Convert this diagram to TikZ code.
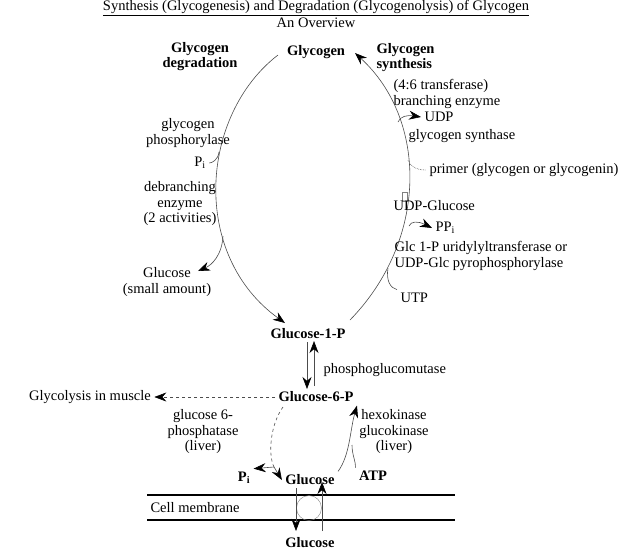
\documentclass[tikz,border=0pt]{standalone}
\usepackage{fontspec}
\setmainfont{Liberation Serif}
\usetikzlibrary{arrows.meta}
\begin{document}
\begin{tikzpicture}[x=1pt,y=-1pt,font=\fontsize{14.5}{15.5}\selectfont,
  ln/.style={gray!60!black,line width=0.6pt},
  tip/.style={-{Stealth[length=12pt,width=9pt,black]}},
  b/.style={font=\fontsize{14.5}{15}\selectfont\bfseries},
  mem/.style={line width=2pt}]
\useasboundingbox (0,0) rectangle (633,555);
\node (t1) at (316,8) {\underline{Synthesis (Glycogenesis) and Degradation (Glycogenolysis) of Glycogen}};
\node (t2) at (316,23) {An Overview};
\node[b] (gly) at (316,52) {Glycogen};
\node[b,align=center] (deg) at (200,57) {Glycogen\\degradation};
\node[b,align=left,anchor=west] (syn) at (373,58) {Glycogen\\synthesis};
\node[b] (g1p) at (308,334) {Glucose-1-P};
\node[b] (g6p) at (316,397) {Glucose-6-P};
\node (gm) at (90,397) {Glycolysis in muscle};
\node[b] (glc) at (310,480) {Glucose};
\node[b] (pi2) at (244,478) {P$_{\mathbf i}$};
\node[b] (atp) at (373,476) {ATP};
\node[b] (glco) at (310,543) {Glucose};
% arcs
\draw[ln,tip] (278,55) .. controls (200,115) and (190,255) .. (285,323);
\draw[ln,tip] (350,320) .. controls (428,240) and (428,120) .. (355,53);
% left side labels
\node[align=center] (gp) at (188,133) {glycogen\\phosphorylase};
\node (pi) at (200,163) {P$_{\mathrm i}$};
\draw[ln] (pi.east) .. controls (212,163) and (218,160) .. (219,152);
\node[align=center] (deb) at (180,204) {debranching\\enzyme\\(2 activities)};
\node[align=center] (gs) at (167,282) {Glucose\\(small amount)};
\coordinate (l1) at (223,236);
\draw[ln,tip] (l1) .. controls (222,255) and (212,265) .. (198,271);
% right side labels
\node[align=left,anchor=west] (be) at (390,94) {(4:6 transferase)\\branching enzyme};
\node[anchor=west] (udp) at (421,117) {UDP};
\coordinate (r1) at (398,122);
\draw[ln,tip] (r1) .. controls (400,116) and (408,115) .. (udp.west);
\node[anchor=west] (gsyn) at (405,136) {glycogen synthase};
\node[anchor=west] (prim) at (426,170) {primer (glycogen or glycogenin)};
\coordinate (r2) at (408,160);
\draw[ln,densely dotted] (r2) .. controls (410,166) and (416,170) .. (prim.west);
\node[draw=gray,minimum width=5pt,minimum height=9pt,inner sep=0pt] (box) at (405,197) {};
\node[anchor=west] (udpg) at (390,206) {UDP-Glucose};
\node[anchor=west] (ppi) at (432,228) {PP$_{\mathrm i}$};
\coordinate (r3) at (409,226);
\draw[ln,tip] (r3) .. controls (411,221) and (418,221) .. (ppi.west);
\node[align=left,anchor=west] (ut) at (391,256) {Glc 1-P uridylyltransferase or\\UDP-Glc pyrophosphorylase};
\node[anchor=west] (utp) at (397,298) {UTP};
\coordinate (r4) at (388,268);
\draw[ln] (r4) .. controls (386,280) and (390,288) .. (utp.north west);
% g1p <-> g6p
\coordinate (a1) at (307,342); \coordinate (a2) at (307,389);
\coordinate (b1) at (314,386); \coordinate (b2) at (314,341);
\draw[ln,tip] (a1) -- (a2);
\draw[ln,tip] (b1) -- (b2);
\node[anchor=west] (pgm) at (320,370) {phosphoglucomutase};
\draw[ln,dashed,tip] (g6p.west) -- (gm.east);
\node[align=center] (g6pase) at (203,432) {glucose 6-\\phosphatase\\(liver)};
\node[align=center] (hk) at (394,432) {hexokinase\\glucokinase\\(liver)};
\coordinate (d1) at (283,407); \coordinate (d2) at (274,467);
\draw[ln,dashed] (d1) .. controls (270,425) and (268,455) .. (d2);
\draw[ln,tip] (d2) -- (glc.west);
\draw[ln,tip] (d2) -- (pi2.north east);
\draw[ln,tip] (glc.north east) .. controls (350,455) and (350,430) .. (g6p.south east);
\coordinate (m1) at (352,445);
\draw[ln] (atp.north west) .. controls (356,462) and (352,455) .. (m1);
% membrane
\coordinate (ml1) at (147,495); \coordinate (mr1) at (455,495);
\coordinate (ml2) at (147,520); \coordinate (mr2) at (455,520);
\draw[mem] (ml1) -- (mr1);
\draw[mem] (ml2) -- (mr2);
\node[anchor=west] (cm) at (147,508) {Cell membrane};
\node[draw=gray,circle,minimum size=25pt,inner sep=0pt] (pore) at (309,508) {};
\coordinate (c1) at (296,488); \coordinate (c2) at (296,531);
\coordinate (c3) at (322,531); \coordinate (c4) at (322,482);
\draw[ln,tip] (c1) -- (c2);
\draw[ln,tip] (c3) -- (c4);
\end{tikzpicture}
\end{document}
